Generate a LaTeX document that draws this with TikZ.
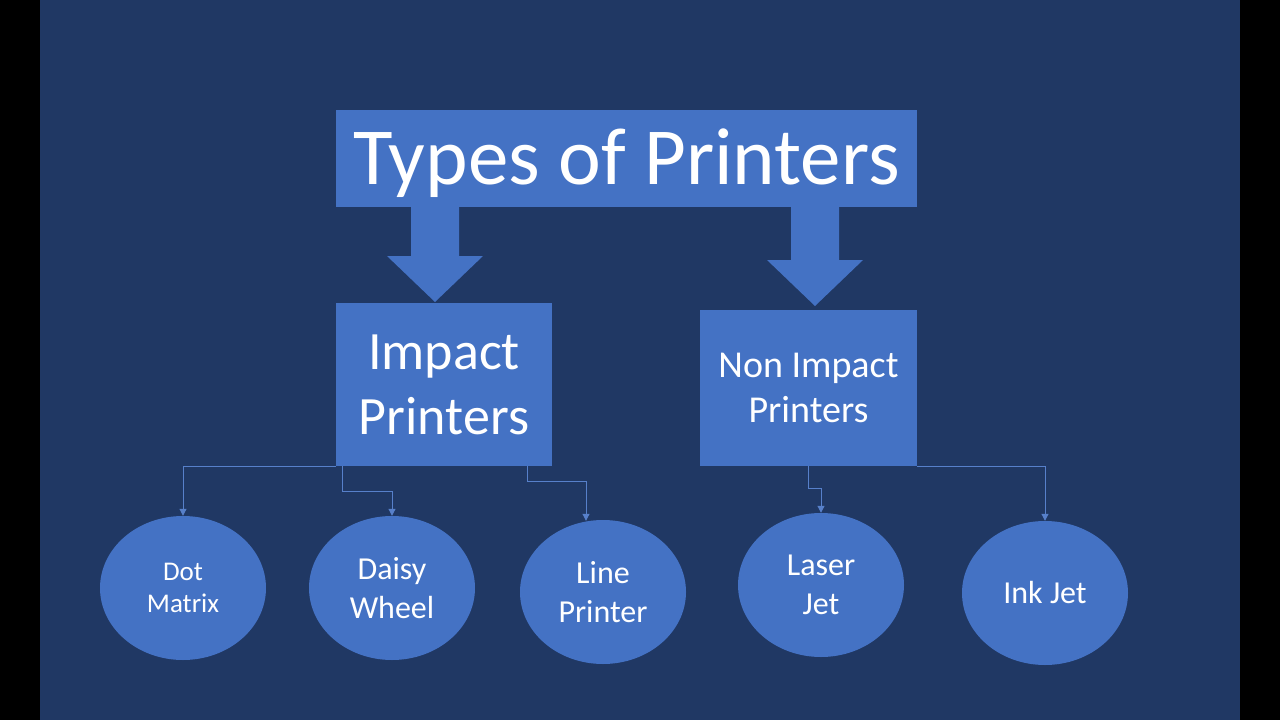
\documentclass[tikz,border=0pt]{standalone}
\usepackage{fontspec}
\setmainfont{Carlito}
\usetikzlibrary{positioning, arrows.meta, shapes.geometric}
\definecolor{slidebg}{HTML}{203864}
\definecolor{boxblue}{HTML}{4472C4}

\begin{document}
\begin{tikzpicture}[x=1pt, y=-1pt,
    every box/.style={rectangle, fill=boxblue, text=white, align=center, inner sep=0pt},
    every printer/.style={ellipse, fill=boxblue, text=white, align=center, minimum width=166pt, minimum height=144pt, inner sep=0pt, font=\fontsize{32}{39}\selectfont},
    link/.style={draw=boxblue!90!white, line width=1pt, -{Triangle[width=7pt, length=7pt]}}]

    % Background with black side bars
    \fill[black] (0,0) rectangle (1280,720);
    \fill[slidebg] (40,0) rectangle (1240,720);
    \useasboundingbox (0,0) rectangle (1280,720);

    % Title box
    \node[every box, minimum width=581pt, minimum height=97pt, text height=68pt, text depth=16pt, font=\fontsize{81}{86}\selectfont] (title) at (626.5,158.5) {Types of Printers};

    % Second level boxes
    \node[every box, minimum width=216pt, minimum height=163pt, font=\fontsize{54}{65}\selectfont] (impact) at (444,384.5) {Impact\\Printers};
    \node[every box, minimum width=217pt, minimum height=156pt, font=\fontsize{38}{45}\selectfont] (nonimpact) at (808.5,388) {Non Impact\\Printers};

    % Block arrows from the title
    \foreach \cx/\tip in {435/302, 815/306}
        \fill[boxblue] (\cx-24,207) -- (\cx+24,207) -- (\cx+24,\tip-46) -- (\cx+48,\tip-46)
            -- (\cx,\tip) -- (\cx-48,\tip-46) -- (\cx-24,\tip-46) -- cycle;

    % Printer ellipses
    \node[every printer, font=\fontsize{27}{32}\selectfont] (dot) at (183,588) {Dot\\Matrix};
    \node[every printer] (daisy) at (392,588) {Daisy\\Wheel};
    \node[every printer] (line) at (603,592) {Line\\Printer};
    \node[every printer] (laser) at (821,585) {Laser\\Jet};
    \node[every printer] (inkjet) at (1045,593) {Ink Jet};

    % Connections from impact printers
    \draw[link] (impact.south west) -| (dot.north);
    \draw[link] ([xshift=7pt]impact.south west) -- ++(0,25) -| (daisy.north);
    \draw[link] ([xshift=-25pt]impact.south east) -- ++(0,15) -| ([xshift=-17pt, yshift=-1pt]line.north);

    % Connections from non impact printers
    \draw[link] (nonimpact.south) -- ++(0,22) -| (laser.north);
    \draw[link] (nonimpact.south east) -| (inkjet.north);

\end{tikzpicture}
\end{document}
